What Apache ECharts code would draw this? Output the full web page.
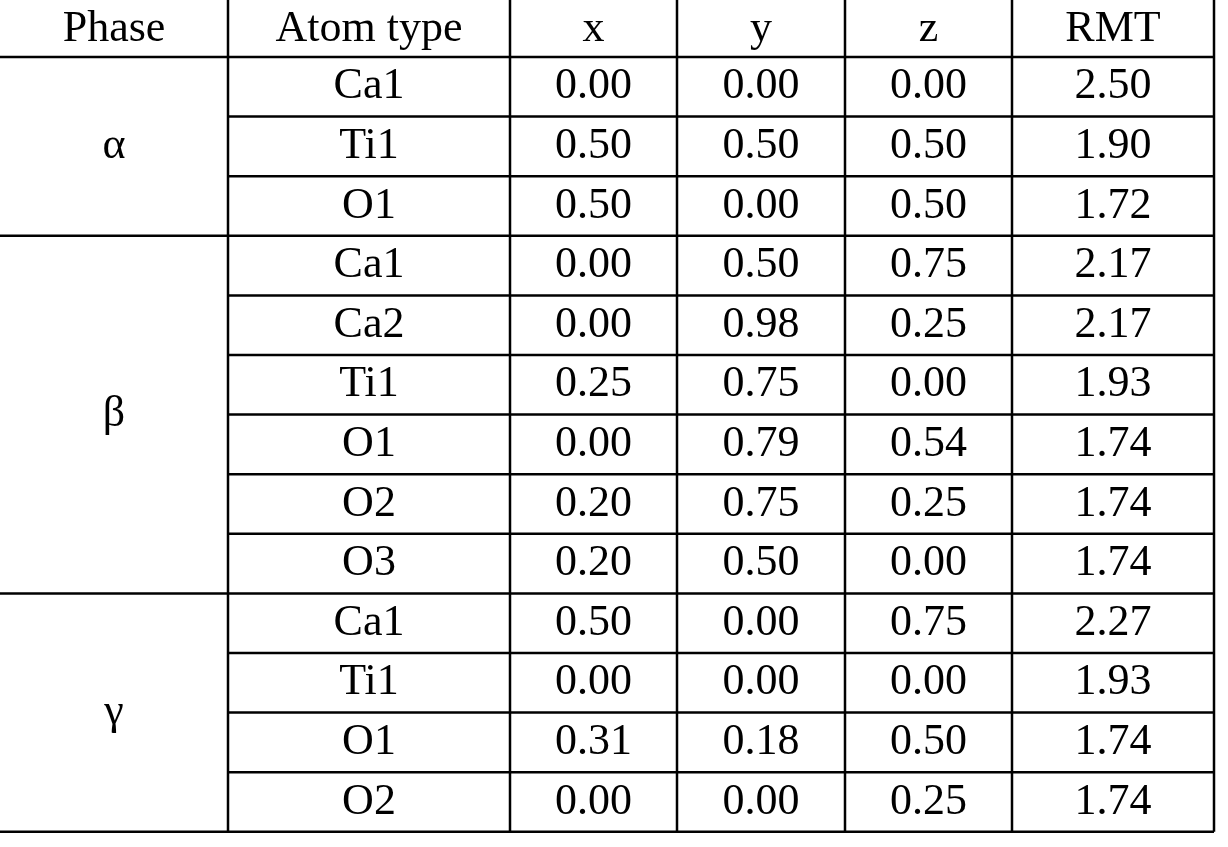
<!DOCTYPE html>
<html><head><meta charset="utf-8">
<script src="https://cdn.jsdelivr.net/npm/echarts@6/dist/echarts.min.js"></script>
<style>html,body{margin:0;padding:0;background:#fff}#c{width:1228px;height:847px}</style>
</head><body><div id="c"></div>
<script>
const headers = ['Phase','Atom type','x','y','z','RMT'];
const phases = ['α','β','γ'];
const phaseCounts = [3,6,4];
const atoms = ['Ca1','Ti1','O1','Ca1','Ca2','Ti1','O1','O2','O3','Ca1','Ti1','O1','O2'];
const xs = ['0.00','0.50','0.50','0.00','0.00','0.25','0.00','0.20','0.20','0.50','0.00','0.31','0.00'];
const ys = ['0.00','0.50','0.00','0.50','0.98','0.75','0.79','0.75','0.50','0.00','0.00','0.18','0.00'];
const zs = ['0.00','0.50','0.50','0.75','0.25','0.00','0.54','0.25','0.00','0.75','0.00','0.50','0.25'];
const rmt = ['2.50','1.90','1.72','2.17','2.17','1.93','1.74','1.74','1.74','2.27','1.93','1.74','1.74'];

// layout
const colEdges = [0,228,510,677,845,1012,1214];
const headerBottom = 57, rowH = 59.6;
const rowTop = i => headerBottom + rowH*i;

const cells = [];
headers.forEach((h,c)=>cells.push([(colEdges[c]+colEdges[c+1])/2, headerBottom/2+1, h]));
let start=0;
phases.forEach((p,k)=>{cells.push([colEdges[0]+ (colEdges[1]-colEdges[0])/2, rowTop(start)+rowH*phaseCounts[k]/2, p]); start+=phaseCounts[k];});
const cols=[atoms,xs,ys,zs,rmt];
cols.forEach((arr,ci)=>arr.forEach((v,r)=>cells.push([(colEdges[ci+1]+colEdges[ci+2])/2, rowTop(r)+rowH/2, v])));

const lines=[];
const total=atoms.length, bottom=rowTop(total);
lines.push([0,headerBottom,colEdges[6],headerBottom]);
const phaseEnds=[]; let acc=0; phaseCounts.forEach(n=>{acc+=n;phaseEnds.push(acc);});
for(let r=1;r<=total;r++){
  const full = phaseEnds.includes(r);
  lines.push([full?0:colEdges[1], rowTop(r), colEdges[6], rowTop(r)]);
}
for(let c=1;c<colEdges.length;c++) lines.push([colEdges[c],0,colEdges[c],bottom]);

const chart=echarts.init(document.getElementById('c'));
chart.setOption({
  animation:false,
  grid:{left:0,right:0,top:0,bottom:0},
  xAxis:{type:'value',min:0,max:1228,show:false},
  yAxis:{type:'value',min:0,max:847,inverse:true,show:false},
  series:[
    {type:'custom',data:lines,renderItem:(p,api)=>{
      const a=api.coord([api.value(0),api.value(1)]), b=api.coord([api.value(2),api.value(3)]);
      return {type:'line',shape:{x1:a[0],y1:a[1],x2:b[0],y2:b[1]},style:{stroke:'#000',lineWidth:2.5}};
    }},
    {type:'custom',data:cells.map(c=>[c[0],c[1],c[2]]),encode:{x:0,y:1},dimensions:['x','y',{name:'t',type:'ordinal'}],
     renderItem:(p,api)=>{
      const pt=api.coord([api.value(0),api.value(1)]);
      const d=cells[p.dataIndex];
      return {type:'text',x:pt[0],y:pt[1],style:{text:d[2],align:'center',verticalAlign:'middle',font:'44px "Liberation Serif", "Times New Roman", serif',fill:'#000'}};
    }}
  ]
});
</script></body></html>
